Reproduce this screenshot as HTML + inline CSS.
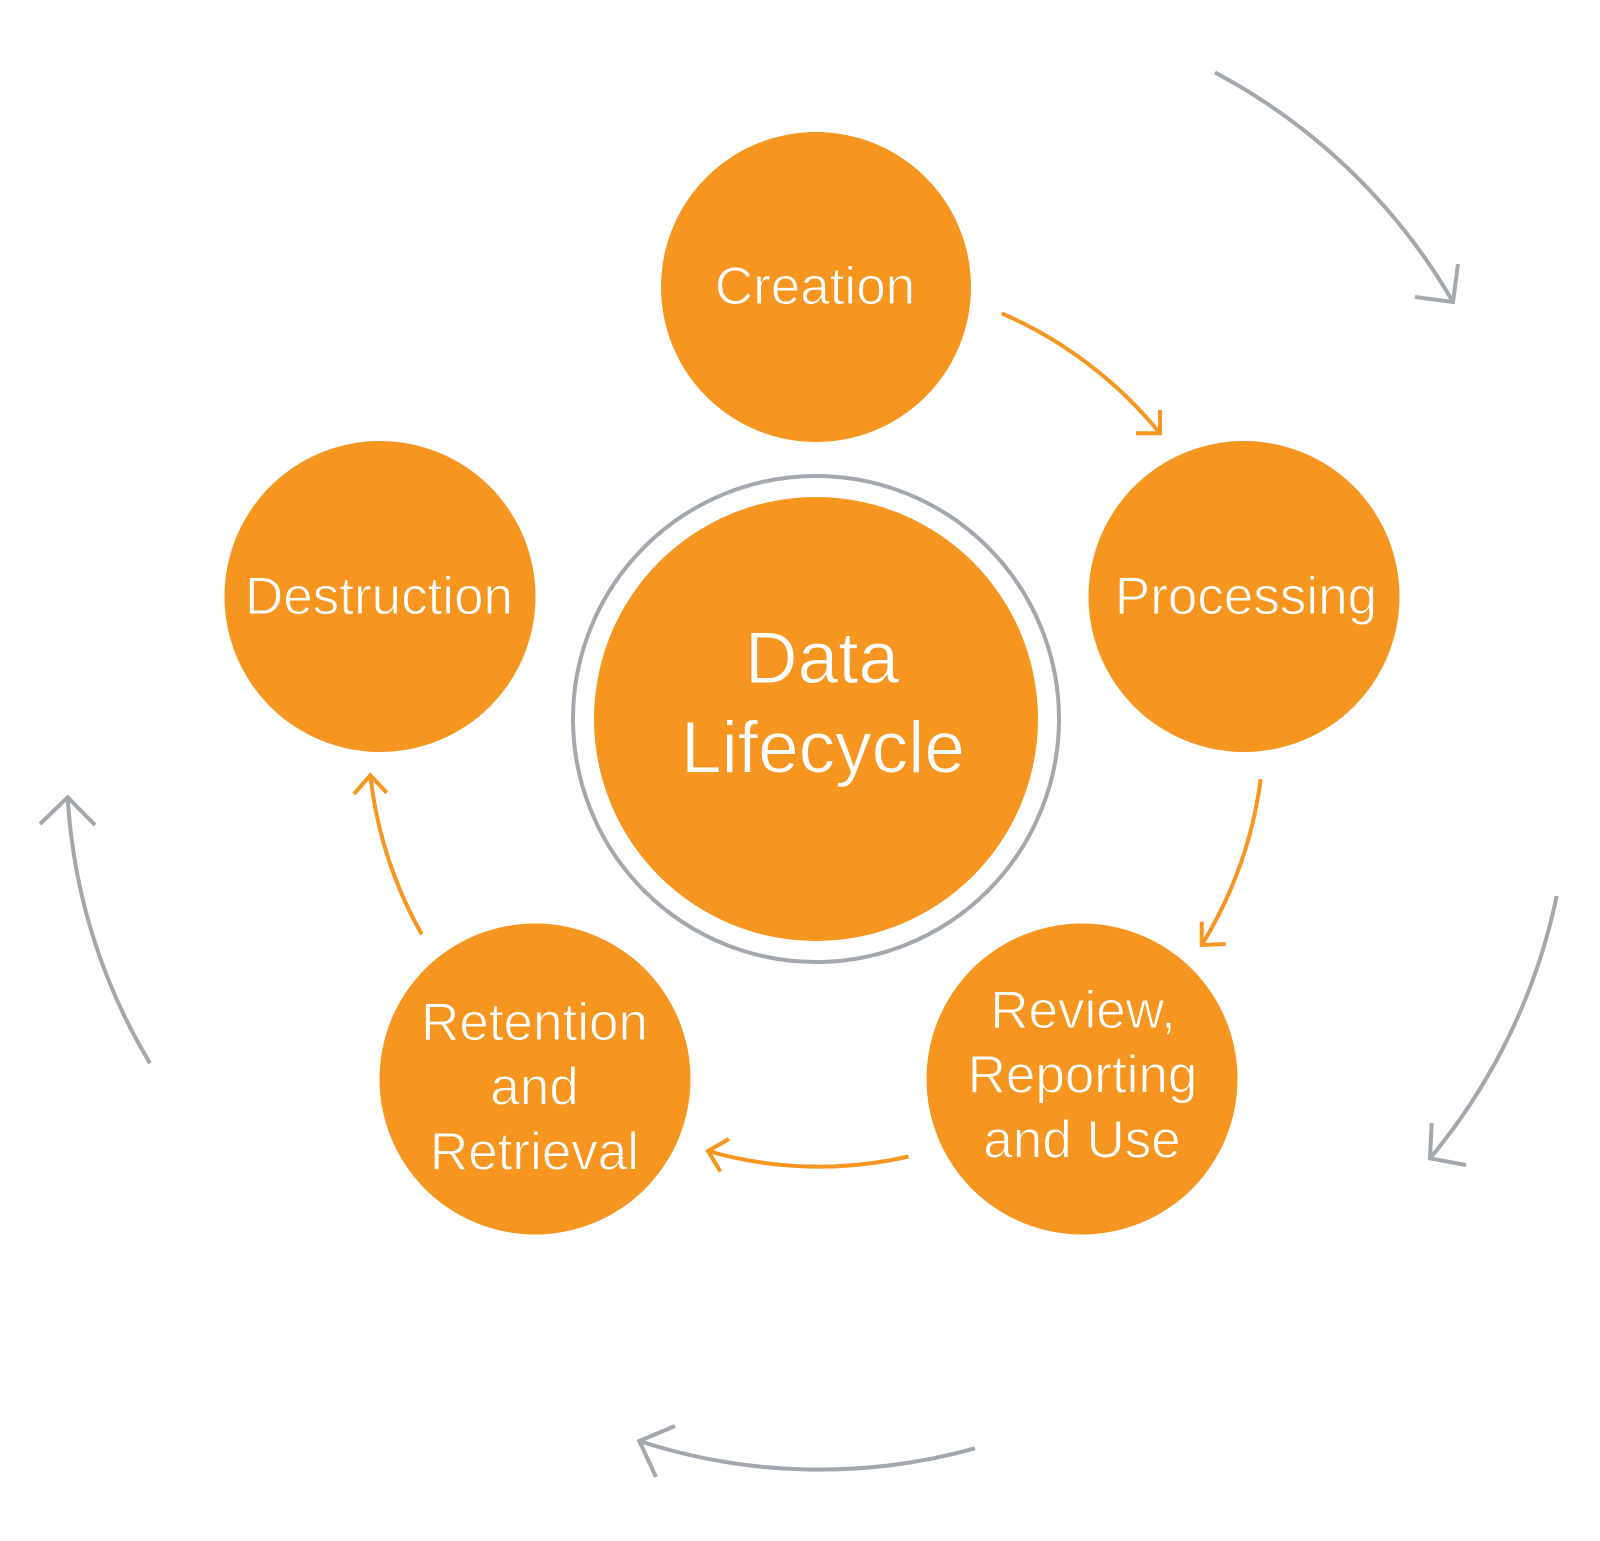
<!DOCTYPE html>
<html>
<head>
<meta charset="utf-8">
<style>
  html, body { margin: 0; padding: 0; background: #ffffff; }
  body { width: 1600px; height: 1541px; overflow: hidden; }
  svg { display: block; }
  .lbl { font-family: "Liberation Sans", Arial, sans-serif; font-size: 53px; fill: #ffffff; stroke: #F6951F; stroke-width: 1; text-anchor: middle; }
  .big { font-size: 73px; }
</style>
</head>
<body>
<svg width="1600" height="1541" viewBox="0 0 1600 1541" xmlns="http://www.w3.org/2000/svg">
  <rect x="0" y="0" width="1600" height="1541" fill="#ffffff"/>

  <!-- Outer gray cycle arrows -->
  <g fill="none" stroke="#A3A8AE" stroke-width="4" stroke-linecap="butt" stroke-linejoin="miter">
    <path d="M 1215 72.5 A 600 600 0 0 1 1453 302"/>
    <polyline points="1415,297 1453,302 1458,264"/>

    <path d="M 1556.7 896 A 600 600 0 0 1 1430 1158.3"/>
    <polyline points="1431.7,1123 1430,1158.3 1466,1165"/>

    <path d="M 975 1448.3 A 580 580 0 0 1 639.3 1441"/>
    <polyline points="675,1426 639.3,1441 656,1477"/>

    <path d="M 150 1063.3 A 580 580 0 0 1 67.7 797.3"/>
    <polyline points="40,824 67.7,797.3 95,825"/>
  </g>

  <!-- Center ring and circle -->
  <circle cx="816" cy="719" r="243" fill="none" stroke="#A3A8AE" stroke-width="4"/>
  <circle cx="816" cy="719" r="222" fill="#F6951F"/>

  <!-- Node circles -->
  <circle cx="816" cy="287" r="155" fill="#F6951F"/>
  <circle cx="1244" cy="596.5" r="155.5" fill="#F6951F"/>
  <circle cx="1082" cy="1079" r="155.5" fill="#F6951F"/>
  <circle cx="535" cy="1079" r="155.5" fill="#F6951F"/>
  <circle cx="380" cy="596.5" r="155.5" fill="#F6951F"/>

  <!-- Orange inner arrows -->
  <g fill="none" stroke="#F6951F" stroke-width="4" stroke-linecap="butt" stroke-linejoin="miter">
    <path d="M 1001.7 313.3 A 420 420 0 0 1 1160 433.3"/>
    <polyline points="1160,410 1160,433.3 1136,433.3"/>

    <path d="M 1260.7 779.3 A 420 420 0 0 1 1201.7 945"/>
    <polyline points="1201.7,921.7 1201.7,945 1225.7,944"/>

    <path d="M 908.5 1156.5 A 400 400 0 0 1 708 1151"/>
    <polyline points="729,1139 708,1151 720.4,1171.6"/>

    <path d="M 421.7 934.3 A 420 420 0 0 1 370.3 775.3"/>
    <polyline points="354,794 370.3,775.3 386.7,792.7"/>
  </g>

  <!-- Labels -->
  <text class="lbl big" x="822" y="683">Data</text>
  <text class="lbl big" x="823" y="772.5">Lifecycle</text>

  <text class="lbl" x="815" y="304">Creation</text>
  <text class="lbl" x="1246" y="614">Processing</text>
  <text class="lbl" x="379" y="614">Destruction</text>

  <text class="lbl" x="1083" y="1028">Review,</text>
  <text class="lbl" x="1082.5" y="1092.7">Reporting</text>
  <text class="lbl" x="1082" y="1157.7">and Use</text>

  <text class="lbl" x="534.5" y="1040">Retention</text>
  <text class="lbl" x="534.5" y="1104.3">and</text>
  <text class="lbl" x="534.5" y="1169.3">Retrieval</text>
</svg>
</body>
</html>
